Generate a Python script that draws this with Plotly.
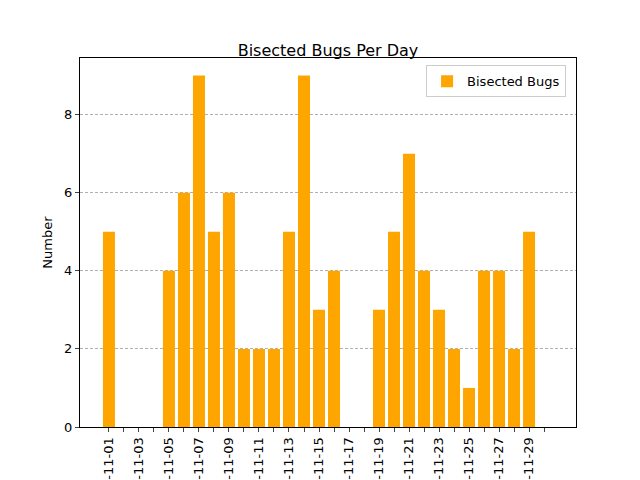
import plotly.graph_objects as go

days = list(range(1, 31))
values = [5,0,0,0,4,6,9,5,6,2,2,2,5,9,3,4,0,0,3,5,7,4,3,2,1,4,4,2,5,0]
tick_labels = [f"2023-11-{d:02d}" if d % 2 == 1 else "" for d in days]

fig = go.Figure(go.Bar(x=days, y=values, name="Bisected Bugs", marker_color="orange",
                       marker_line_width=0, width=0.8))
font = dict(family="DejaVu Sans", size=13, color="black")
fig.update_layout(
    width=640, height=480, paper_bgcolor="white", plot_bgcolor="white", font=font,
    margin=dict(l=72, r=72, t=50, b=61, autoexpand=False),
    title=dict(text="Bisected Bugs Per Day", x=0.5, xanchor="center", y=1-42/480, yanchor="middle",
               font=dict(family="DejaVu Sans", size=16, color="black")),
    showlegend=True,
    legend=dict(x=0.98, y=0.98, xanchor="right", yanchor="top", bordercolor="#cccccc", borderwidth=1,
                font=dict(family="DejaVu Sans", size=13)),
    bargap=0.2,
)
fig.update_xaxes(range=[-0.93, 32.13], tickvals=days, ticktext=tick_labels, tickangle=-90,
                 ticks="outside", ticklen=4, showgrid=False, showline=True, linecolor="black",
                 mirror=True, automargin=False, zeroline=False)
fig.update_yaxes(range=[0, 9.45], tickvals=[0,2,4,6,8], ticks="outside", ticklen=4,
                 showgrid=True, gridcolor="#b0b0b0", griddash="3px,2px", gridwidth=1,
                 showline=True, linecolor="black", mirror=True, zeroline=False,
                 title=dict(text="Number", standoff=8, font=dict(family="DejaVu Sans", size=13)),
                 automargin=False)
fig.write_html("out.html")
